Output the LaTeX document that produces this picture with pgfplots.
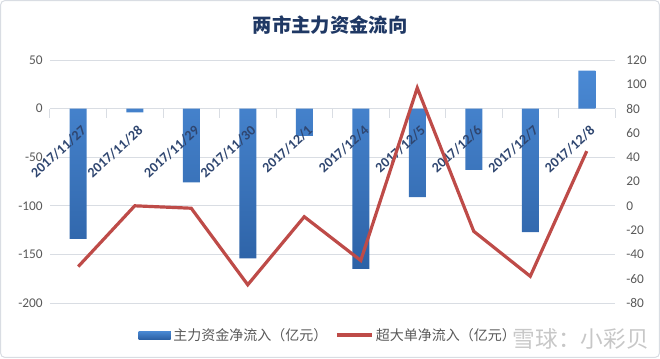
\documentclass[border=0pt]{standalone}
\usepackage{fontspec}
\setmainfont{Carlito}
\newfontfamily\cjk{Noto Sans CJK SC}
\usepackage{pgfplots}
\pgfplotsset{compat=1.18}
\definecolor{gridc}{HTML}{D9DDE3}
\definecolor{tickc}{HTML}{595959}
\definecolor{titlec}{HTML}{1F3864}
\definecolor{xlabc}{HTML}{2F4670}
\definecolor{bartop}{HTML}{4A89D4}
\definecolor{barbot}{HTML}{2D62A6}
\definecolor{linec}{HTML}{BE4B48}
\pgfplotsset{base/.style={at={(0,0)}, anchor=south west, scale only axis,
  width=423.75pt, height=182.25pt, xmin=-0.5, xmax=9.5,
  major tick length=0pt, /pgf/number format/assume math mode=true}}
\begin{document}
\begin{tikzpicture}
\path[use as bounding box] (-37.5pt,-41.25pt) rectangle (457.5pt,227.25pt);
\draw[gridc, rounded corners=3pt, line width=0.75pt] (-37pt,-40.75pt) rectangle (457pt,226.75pt);
\begin{axis}[base,
  ymin=-200, ymax=50,
  ytick={-200,-150,...,50},
  axis x line*=middle, axis y line*=left,
  x axis line style={-, draw=gridc, line width=0.75pt},
  y axis line style={draw=none},
  ymajorgrids, grid style={gridc, line width=0.75pt},
  xtick={0,...,9}, xticklabels={},
  extra x ticks={-0.5,0.5,1.5,2.5,3.5,4.5,5.5,6.5,7.5,8.5,9.5},
  extra x tick labels={},
  extra x tick style={major tick length=7pt, tick style={draw=gridc, line width=0.75pt}},
  yticklabel style={font=\fontsize{10}{12}\selectfont, text=tickc, xshift=-2pt},
  ybar, bar width=12.75pt,
  legend style={at={(0.493,-0.132)}, anchor=center, draw=none, fill=none,
    legend columns=2, font=\cjk\fontsize{10.5}{12}\selectfont, text=tickc,
    /tikz/every even column/.append style={column sep=4pt},
    /tikz/every odd column/.append style={column sep=0pt}},
]
\addplot[draw=none, top color=bartop, bottom color=barbot,
  legend image code/.code={\fill[bartop!60!barbot] (0pt,-3pt) rectangle (24pt,3pt);}]
  coordinates {(0,-134) (1,-4) (2,-76) (3,-154) (4,-28) (5,-165) (6,-91) (7,-63) (8,-127) (9,39)};
\addlegendentry{主力资金净流入（亿元）}
\addlegendimage{legend image code/.code={\draw[linec, line width=2.4pt] (0pt,0pt) -- (26pt,0pt);}}
\addlegendentry{超大单净流入（亿元）}
\end{axis}
\begin{axis}[base,
  ymin=-200, ymax=50,
  axis x line*=middle, axis y line=none,
  x axis line style={draw=none},
  xtick={0,...,9},
  xticklabels={2017/11/27,2017/11/28,2017/11/29,2017/11/30,2017/12/1,2017/12/4,2017/12/5,2017/12/6,2017/12/7,2017/12/8},
  xticklabel style={xshift=4.5pt, yshift=-15pt, rotate=42, anchor=east, inner sep=0pt,
    font=\bfseries\fontsize{10.5}{12}\selectfont, text=xlabc},
]
\end{axis}
\begin{axis}[base,
  ymin=-80, ymax=120,
  ytick={-80,-60,...,120},
  axis y line*=right, axis x line=none,
  y axis line style={draw=none},
  yticklabel style={font=\fontsize{10}{12}\selectfont, text=tickc, xshift=5pt},
]
\addplot[linec, line width=2.4pt, line join=miter, mark=none]
  coordinates {(0,-50) (1,0) (2,-2) (3,-65) (4,-9) (5,-45) (6,97) (7,-21) (8,-58) (9,45)};
\end{axis}
\node[font=\cjk\bfseries\fontsize{14.5}{16}\selectfont, text=titlec] at (210pt,208.5pt) {两市主力资金流向};
\node[font=\cjk\fontsize{17}{19}\selectfont, text=black!22] at (398pt,-27pt) {雪球：小彩贝};
\end{tikzpicture}
\end{document}
